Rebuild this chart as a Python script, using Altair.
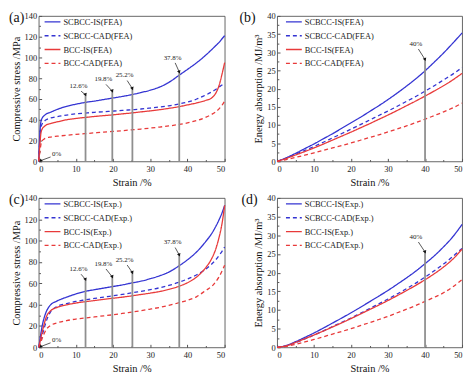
import altair as alt
import pandas as pd

BLUE = "#3434d2"
RED = "#e83a3a"
GRAY = "#8f8f8f"
FRAME = "#555555"
FONT = "Liberation Serif, Times New Roman, serif"

# ---------------- data ----------------
stress_strain = [0, 0.3, 0.6, 1, 1.5, 2, 3, 5, 7.5, 10, 12.6, 15, 17.5, 20, 22.5, 25, 27.5,
                 30, 32.5, 35, 37.8, 40, 42.5, 45, 46.5, 47.5, 48.5, 49.3, 50]

fea_scbcc_is = [0, 25, 38, 42, 44, 45.5, 47, 50, 53, 55, 56.8, 58, 59.5, 61, 62.5, 64.2, 66.2,
                68.5, 71.5, 76, 83, 88.5, 95, 102.5, 107.5, 111, 114.5, 118, 121]
fea_scbcc_cad = [0, 20, 32, 36.5, 38.5, 40, 41.5, 43, 44.5, 45.7, 46.5, 47.2, 47.8, 48.4, 49, 49.7,
                 50.4, 51.3, 52.3, 53.5, 55.3, 57, 60, 64, 66.8, 69, 71.5, 73.5, 75.5]
fea_bcc_is = [0, 15, 27, 31.5, 33.5, 35, 36.2, 38, 40, 41.3, 42.3, 43.2, 44, 44.8, 45.7, 46.6, 47.6,
              48.6, 49.7, 51, 52.7, 54.3, 56.3, 58.8, 61, 65, 73, 84, 95]
fea_bcc_cad = [0, 8, 16, 20, 21.5, 22.5, 23.3, 24.2, 25.1, 25.9, 26.7, 27.4, 28.1, 28.8, 29.5, 30.3,
               31.1, 32, 33, 34.1, 35.5, 37, 39.3, 42.5, 45.2, 47.3, 50.5, 54, 58]

exp_scbcc_is = [0, 6, 13, 21, 28, 33, 39, 43.5, 47, 50, 52.5, 54, 55.5, 57, 58.5, 60.3, 62, 64.3,
                67, 70.5, 76.5, 82, 89.5, 99.5, 106.5, 112.5, 119.5, 126, 133]
exp_scbcc_cad = [0, 3, 7, 12, 18, 24, 32, 38.5, 41, 43, 44.5, 45.8, 47, 48.3, 49.6, 51, 52.5, 54,
                 55.8, 58, 61, 64, 68, 73.5, 78, 81.5, 86, 90, 94]
exp_bcc_is = [0, 4, 9, 15, 22, 28, 33.5, 37.5, 39.8, 41.5, 42.8, 43.8, 45, 46, 47, 48.2, 49.5, 50.8,
              52.3, 54.3, 57.3, 60.5, 66, 75, 83, 91, 103, 116, 133]
exp_bcc_cad = [0, 2, 5, 9, 13, 16.5, 20, 23, 25, 26.5, 27.5, 28.5, 29.5, 30.5, 31.7, 33, 34.3, 35.8,
               37.4, 39.3, 41.8, 44, 47.5, 53.5, 57, 61, 66, 71.5, 77]

energy_strain = [0, 2.5, 5, 7.5, 10, 12.5, 15, 17.5, 20, 22.5, 25, 27.5, 30, 32.5, 35, 37.5, 40,
                 42.5, 45, 47.5, 50]
fea_e_scbcc_is = [0, 1.0, 2.2, 3.5, 4.8, 6.2, 7.6, 9.1, 10.6, 12.1, 13.7, 15.3, 17.0, 18.8, 20.7,
                  22.7, 24.9, 27.3, 29.8, 32.5, 35.3]
fea_e_scbcc_cad = [0, 0.9, 1.95, 3.0, 4.1, 5.25, 6.45, 7.65, 8.85, 10.1, 11.35, 12.6, 13.85, 15.15,
                   16.5, 17.85, 19.3, 20.8, 22.4, 24.0, 25.8]
fea_e_bcc_is = [0, 0.8, 1.75, 2.7, 3.7, 4.75, 5.85, 6.95, 8.05, 9.2, 10.35, 11.55, 12.75, 14.0, 15.3,
                16.6, 17.95, 19.35, 20.8, 22.4, 24.2]
fea_e_bcc_cad = [0, 0.5, 1.1, 1.7, 2.35, 3.0, 3.7, 4.35, 5.05, 5.8, 6.55, 7.3, 8.1, 8.9, 9.75, 10.65,
                 11.6, 12.6, 13.6, 14.7, 16.0]

exp_e_scbcc_is = [0, 0.5, 1.5, 2.65, 3.85, 5.15, 6.5, 7.85, 9.25, 10.7, 12.2, 13.7, 15.25, 16.9, 18.6,
                  20.4, 22.4, 24.5, 26.9, 29.6, 32.9]
exp_e_scbcc_cad = [0, 0.35, 1.25, 2.25, 3.3, 4.4, 5.55, 6.7, 7.85, 9.1, 10.35, 11.65, 12.95, 14.3,
                   15.7, 17.2, 18.8, 20.5, 22.3, 24.3, 26.5]
exp_e_bcc_is = [0, 0.4, 1.3, 2.3, 3.3, 4.35, 5.45, 6.55, 7.7, 8.9, 10.1, 11.3, 12.55, 13.85, 15.2,
                16.6, 18.1, 19.7, 21.5, 23.6, 26.3]
exp_e_bcc_cad = [0, 0.25, 0.8, 1.45, 2.1, 2.8, 3.55, 4.25, 5.0, 5.8, 6.6, 7.45, 8.3, 9.25, 10.2, 11.2,
                 12.3, 13.4, 14.6, 16.2, 18.1]

fea_names = ["SCBCC-IS(FEA)", "SCBCC-CAD(FEA)", "BCC-IS(FEA)", "BCC-CAD(FEA)"]
exp_names = ["SCBCC-IS(Exp.)", "SCBCC-CAD(Exp.)", "BCC-IS(Exp.)", "BCC-CAD(Exp.)"]

# annotations (strain of gray line, top of gray line, label text, label centre x, label centre y)
ann_a_x = [12.6, 19.8, 25.2, 37.8]
ann_a_top = [64, 67.5, 70, 86]
ann_a_text = ["12.6%", "19.8%", "25.2%", "37.8%"]
ann_a_lx = [10.7, 17.4, 23.1, 36.0]
ann_a_ly = [72.5, 79, 82.7, 99.7]

ann_c_x = [12.6, 19.8, 25.2, 37.8]
ann_c_top = [63.5, 66, 70, 86.5]
ann_c_text = ["12.6%", "19.8%", "25.2%", "37.8%"]
ann_c_lx = [10.7, 17.4, 23.1, 36.0]
ann_c_ly = [73.4, 78.3, 82, 98.4]

zero_text = "0%"
zero_lx, zero_ly = 3.6, 7.0

ann_b_x, ann_b_top, ann_b_lx, ann_b_ly = [40], [28], [37.5], [32.3]
ann_d_x, ann_d_top, ann_d_lx, ann_d_ly = [40], [25.5], [37.5], [29.6]

X_MAJOR = [0, 10, 20, 30, 40, 50]
X_MINOR = [5, 15, 25, 35, 45]


def series_df(strain, vals, names):
    rows = []
    for name, v in zip(names, vals):
        for s, y in zip(strain, v):
            rows.append({"strain": s, "value": y, "series": name})
    return pd.DataFrame(rows)


def panel(df, names, ytitle, ydom, ymajor, yminor, ann, tag, W, H, legx, tagx, zero=None):
    xs = alt.Scale(domain=[0, 50], nice=False)
    ys = alt.Scale(domain=ydom, nice=False)
    base = alt.Chart(df)

    legend = alt.Legend(orient="none", legendX=legx, legendY=-3, title=None, symbolType="stroke",
                        symbolSize=256, symbolStrokeWidth=1.4, labelFont=FONT, labelFontSize=8.5,
                        labelColor="#222", rowPadding=-9.5, labelOffset=2, padding=0)
    lines = base.mark_line(strokeWidth=1.3, interpolate="monotone").encode(
        x=alt.X("strain:Q", scale=xs,
                axis=alt.Axis(values=X_MAJOR, ticks=False, labelPadding=3, title="Strain /%",
                              titlePadding=5, grid=False, domain=False)),
        y=alt.Y("value:Q", scale=ys,
                axis=alt.Axis(values=ymajor, ticks=False, labelPadding=2, title=ytitle,
                              titlePadding=3, grid=False, domain=False)),
        color=alt.Color("series:N", scale=alt.Scale(domain=names, range=[BLUE, BLUE, RED, RED]),
                        legend=legend),
        strokeDash=alt.StrokeDash("series:N",
                                  scale=alt.Scale(domain=names, range=[[1, 0], [4, 3], [1, 0], [4, 3]]),
                                  legend=legend),
    )

    def tick_layer(ch, vals, size):
        if ch == "y":
            return base.mark_point(opacity=0, size=1).encode(
                x=alt.X("strain:Q", scale=xs, axis=None),
                y=alt.Y("value:Q", scale=ys,
                        axis=alt.Axis(orient="right", offset=-W, values=vals, tickSize=size,
                                      labels=False, domain=False, grid=False, title=None,
                                      tickColor=FRAME)))
        return base.mark_point(opacity=0, size=1).encode(
            x=alt.X("strain:Q", scale=xs,
                    axis=alt.Axis(orient="top", offset=-H, values=vals, tickSize=size,
                                  labels=False, domain=False, grid=False, title=None,
                                  tickColor=FRAME)),
            y=alt.Y("value:Q", scale=ys, axis=None))

    adf = pd.DataFrame(ann)
    adf["y0"] = 0
    adf["ax"] = adf["lx"] + 0.7
    adf["ay"] = adf["ly"] - (ydom[1] * 0.035)
    rules = alt.Chart(adf).mark_rule(color=GRAY, strokeWidth=1.8).encode(
        x=alt.X("x:Q", scale=xs, axis=None),
        y=alt.Y("y0:Q", scale=ys, axis=None), y2="top:Q")
    arrows = alt.Chart(adf).mark_rule(color="#111", strokeWidth=0.7).encode(
        x=alt.X("ax:Q", scale=xs, axis=None), x2="x:Q",
        y=alt.Y("ay:Q", scale=ys, axis=None), y2="top:Q")
    heads = alt.Chart(adf).mark_point(shape="triangle-down", filled=True, color="#111", size=14,
                                      opacity=1, angle=340).encode(
        x=alt.X("x:Q", scale=xs, axis=None),
        y=alt.Y("top:Q", scale=ys, axis=None))
    labels = alt.Chart(adf).mark_text(font=FONT, fontSize=7, color="#222", baseline="middle").encode(
        x=alt.X("lx:Q", scale=xs, axis=None),
        y=alt.Y("ly:Q", scale=ys, axis=None), text="text:N")
    layers = [lines, rules, arrows, heads, labels]

    if zero is not None:
        zdf = pd.DataFrame({"lx": [zero[1]], "ly": [zero[2]], "text": [zero[0]],
                            "ax": [zero[1] - 0.4], "ay": [zero[2] * 0.6], "tx": [0.5], "ty": [0.6]})
        layers += [
            alt.Chart(zdf).mark_rule(color="#111", strokeWidth=0.7).encode(
                x=alt.X("ax:Q", scale=xs, axis=None), x2="tx:Q",
                y=alt.Y("ay:Q", scale=ys, axis=None), y2="ty:Q"),
            alt.Chart(zdf).mark_point(shape="triangle-down", filled=True, color="#111", size=12,
                                      opacity=1, angle=45).encode(
                x=alt.X("tx:Q", scale=xs, axis=None), y=alt.Y("ty:Q", scale=ys, axis=None)),
            alt.Chart(zdf).mark_text(font=FONT, fontSize=7, color="#222", align="left",
                                     baseline="middle").encode(
                x=alt.X("lx:Q", scale=xs, axis=None), y=alt.Y("ly:Q", scale=ys, axis=None),
                text="text:N"),
        ]

    tagc = alt.Chart(pd.DataFrame({"t": [tag]})).mark_text(
        font=FONT, fontSize=14, align="left", baseline="top", color="#111").encode(
        x=alt.value(tagx), y=alt.value(-5), text="t:N")

    layers += [tick_layer("y", ymajor, 3), tick_layer("y", yminor, 1.8),
               tick_layer("x", X_MAJOR, 3), tick_layer("x", X_MINOR, 1.8), tagc]

    return alt.layer(*layers).resolve_axis(x="independent", y="independent").properties(
        width=W, height=H)


def ann_dict(xs_, tops, texts, lxs, lys):
    return {"x": xs_, "top": tops, "text": texts, "lx": lxs, "ly": lys}


S_MAJ = [0, 20, 40, 60, 80, 100, 120, 140]
S_MIN = [10, 30, 50, 70, 90, 110, 130]
E_MAJ = [0, 5, 10, 15, 20, 25, 30, 35, 40]
E_MIN = [2.5, 7.5, 12.5, 17.5, 22.5, 27.5, 32.5, 37.5]

pa = panel(series_df(stress_strain, [fea_scbcc_is, fea_scbcc_cad, fea_bcc_is, fea_bcc_cad], fea_names),
           fea_names, "Compressive stress /MPa", [0, 140], S_MAJ, S_MIN,
           ann_dict(ann_a_x, ann_a_top, ann_a_text, ann_a_lx, ann_a_ly), "(a)", 188, 147, 5, -30,
           zero=(zero_text, zero_lx, zero_ly))
pb = panel(series_df(energy_strain, [fea_e_scbcc_is, fea_e_scbcc_cad, fea_e_bcc_is, fea_e_bcc_cad], fea_names),
           fea_names, "Energy absorption /MJ/m³", [0, 40], E_MAJ, E_MIN,
           ann_dict(ann_b_x, ann_b_top, ["40%"], ann_b_lx, ann_b_ly), "(b)", 187, 147, 8, -38)
pc = panel(series_df(stress_strain, [exp_scbcc_is, exp_scbcc_cad, exp_bcc_is, exp_bcc_cad], exp_names),
           exp_names, "Compressive stress /MPa", [0, 140], S_MAJ, S_MIN,
           ann_dict(ann_c_x, ann_c_top, ann_c_text, ann_c_lx, ann_c_ly), "(c)", 188, 151, 5, -30,
           zero=(zero_text, zero_lx, zero_ly))
pd_ = panel(series_df(energy_strain, [exp_e_scbcc_is, exp_e_scbcc_cad, exp_e_bcc_is, exp_e_bcc_cad], exp_names),
            exp_names, "Energy absorption /MJ/m³", [0, 40], E_MAJ, E_MIN,
            ann_dict(ann_d_x, ann_d_top, ["40%"], ann_d_lx, ann_d_ly), "(d)", 187, 151, 8, -36)

chart = alt.concat(pa, pb, pc, pd_, columns=2, spacing={"row": 37, "column": 53},
                   bounds="flush").resolve_scale(
    color="independent", strokeDash="independent").properties(
    padding={"left": 0, "top": 0, "right": 0, "bottom": 0}
).configure_view(stroke=FRAME, strokeWidth=0.9).configure_axis(
    labelFont=FONT, titleFont=FONT, labelFontSize=8.5, titleFontSize=10.5, labelColor="#222",
    titleColor="#111", titleFontWeight="normal")

chart.save("out.html", embed_options={"renderer": "svg", "actions": False})
